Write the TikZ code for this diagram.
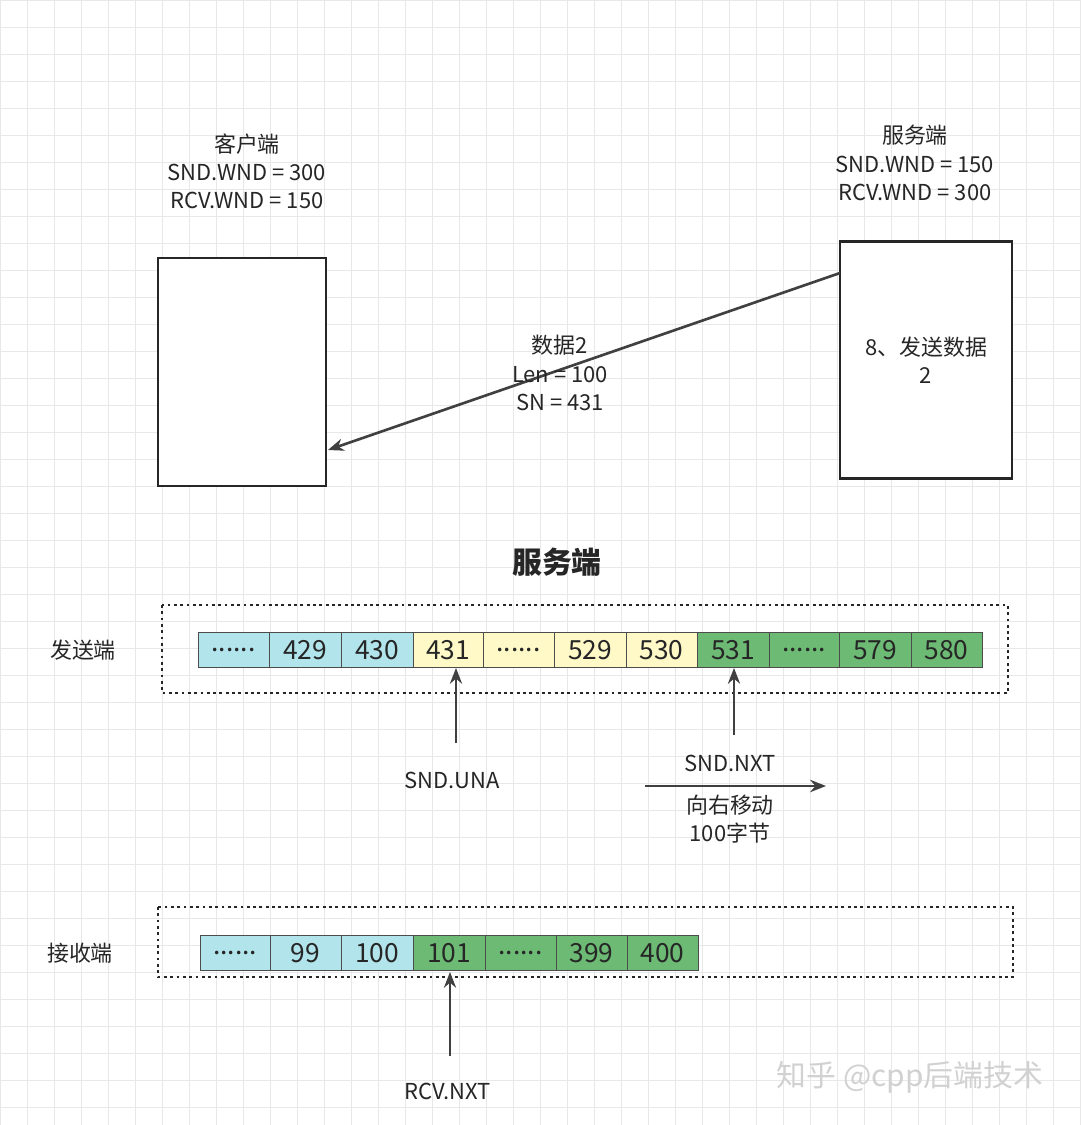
\documentclass[tikz,border=0pt]{standalone}
\usepackage{fontspec}
\setmainfont{Noto Sans CJK SC}
\usetikzlibrary{arrows.meta}
\definecolor{cy}{RGB}{178,228,236}
\definecolor{ye}{RGB}{255,249,200}
\definecolor{gr}{RGB}{108,186,116}
\definecolor{gl}{RGB}{232,232,232}
\newcommand{\dd}{......}
\tikzset{
 lbl/.style={font=\fontsize{12.5pt}{16pt}\selectfont, text=black!85},
 cell/.style={draw=black!70, minimum height=0.7cm, inner sep=0pt, font=\fontsize{15pt}{16pt}\selectfont, text=black!85},
 arr/.style={draw=black!75, line width=0.9pt, -{Stealth[length=9pt,width=7pt]}},
 dotbox/.style={draw=black!85, line width=1.6pt, dotted},
 box/.style={draw=black!85, line width=1.4pt, fill=white}
}
\begin{document}
\begin{tikzpicture}[x=0.02cm,y=-0.02cm]
\useasboundingbox (0,0) rectangle (1080,1125);
\fill[white] (0,0) rectangle (1080,1125);
\foreach \i in {0,...,40} {\draw[gl, line width=0.3pt] (\i*27,0) -- (\i*27,1125);}
\foreach \i in {0,...,42} {\draw[gl, line width=0.3pt] (0,\i*27) -- (1080,\i*27);}
% client
\node[lbl, align=center] (cl) at (247,171) {客户端\\SND.WND = 300\\RCV.WND = 150};
\node[box, minimum width=3.36cm, minimum height=4.56cm] (cb) at (242,372) {};
% server
\node[lbl, align=center] (sl) at (915,163) {服务端\\SND.WND = 150\\RCV.WND = 300};
\node[box, minimum width=3.44cm, minimum height=4.74cm, align=center, lbl] (sb) at (926,360) {8、发送数据\\2};
\coordinate (sa) at (840,273);
\coordinate (ca) at (328,450);
\draw[arr, line width=1.5pt] (sa) -- (ca);
\node[lbl, align=center] (dl) at (560,373) {数据2\\Len = 100\\SN = 431};
% title
\node[font=\bfseries\fontsize{17pt}{18pt}\selectfont, text=black!85] (t) at (557,562) {服务端};
% sender
\draw[dotbox] (162,605) rectangle (1008,693);
\node[lbl] (s) at (83,650) {发送端};
\foreach \a/\b/\c/\t [count=\k] in {198/269/cy/\dd,269/341/cy/429,341/413/cy/430,413/483/ye/431,483/554/ye/\dd,554/626/ye/529,626/697/ye/530,697/769/gr/531,769/839/gr/\dd,839/911/gr/579,911/982/gr/580}
 {\node[cell, fill=\c, minimum width={(\b-\a)*0.02cm}] (s\k) at ({(\a+\b)/2},650) {\t};}
\node[lbl] (una) at (452,780) {SND.UNA};
\coordinate (unab) at (456,743);
\draw[arr] (unab) -- (456,668);
\node[lbl] (nxt) at (730,763) {SND.NXT};
\coordinate (nxtb) at (734,735);
\draw[arr] (nxtb) -- (734,668);
\coordinate (m1) at (645,786); \coordinate (m2) at (826,786);
\draw[arr, line width=1.5pt] (m1) -- (m2);
\node[lbl, align=center] (mv) at (730,819) {向右移动\\100字节};
% receiver
\draw[dotbox] (158,907) rectangle (1013,977);
\node[lbl] (r) at (80,953) {接收端};
\foreach \a/\b/\c/\t [count=\k] in {200/270/cy/\dd,270/341/cy/99,341/413/cy/100,413/485/gr/101,485/556/gr/\dd,556/627/gr/399,627/698/gr/400}
 {\node[cell, fill=\c, minimum width={(\b-\a)*0.02cm}] (r\k) at ({(\a+\b)/2},953) {\t};}
\coordinate (rb) at (450,1056);
\draw[arr] (rb) -- (450,972);
\node[lbl] (rn) at (448,1091) {RCV.NXT};
\node[font=\fontsize{17pt}{18pt}\selectfont, text=black!18] (wm) at (910,1077) {知乎 @cpp后端技术};
\end{tikzpicture}
\end{document}
